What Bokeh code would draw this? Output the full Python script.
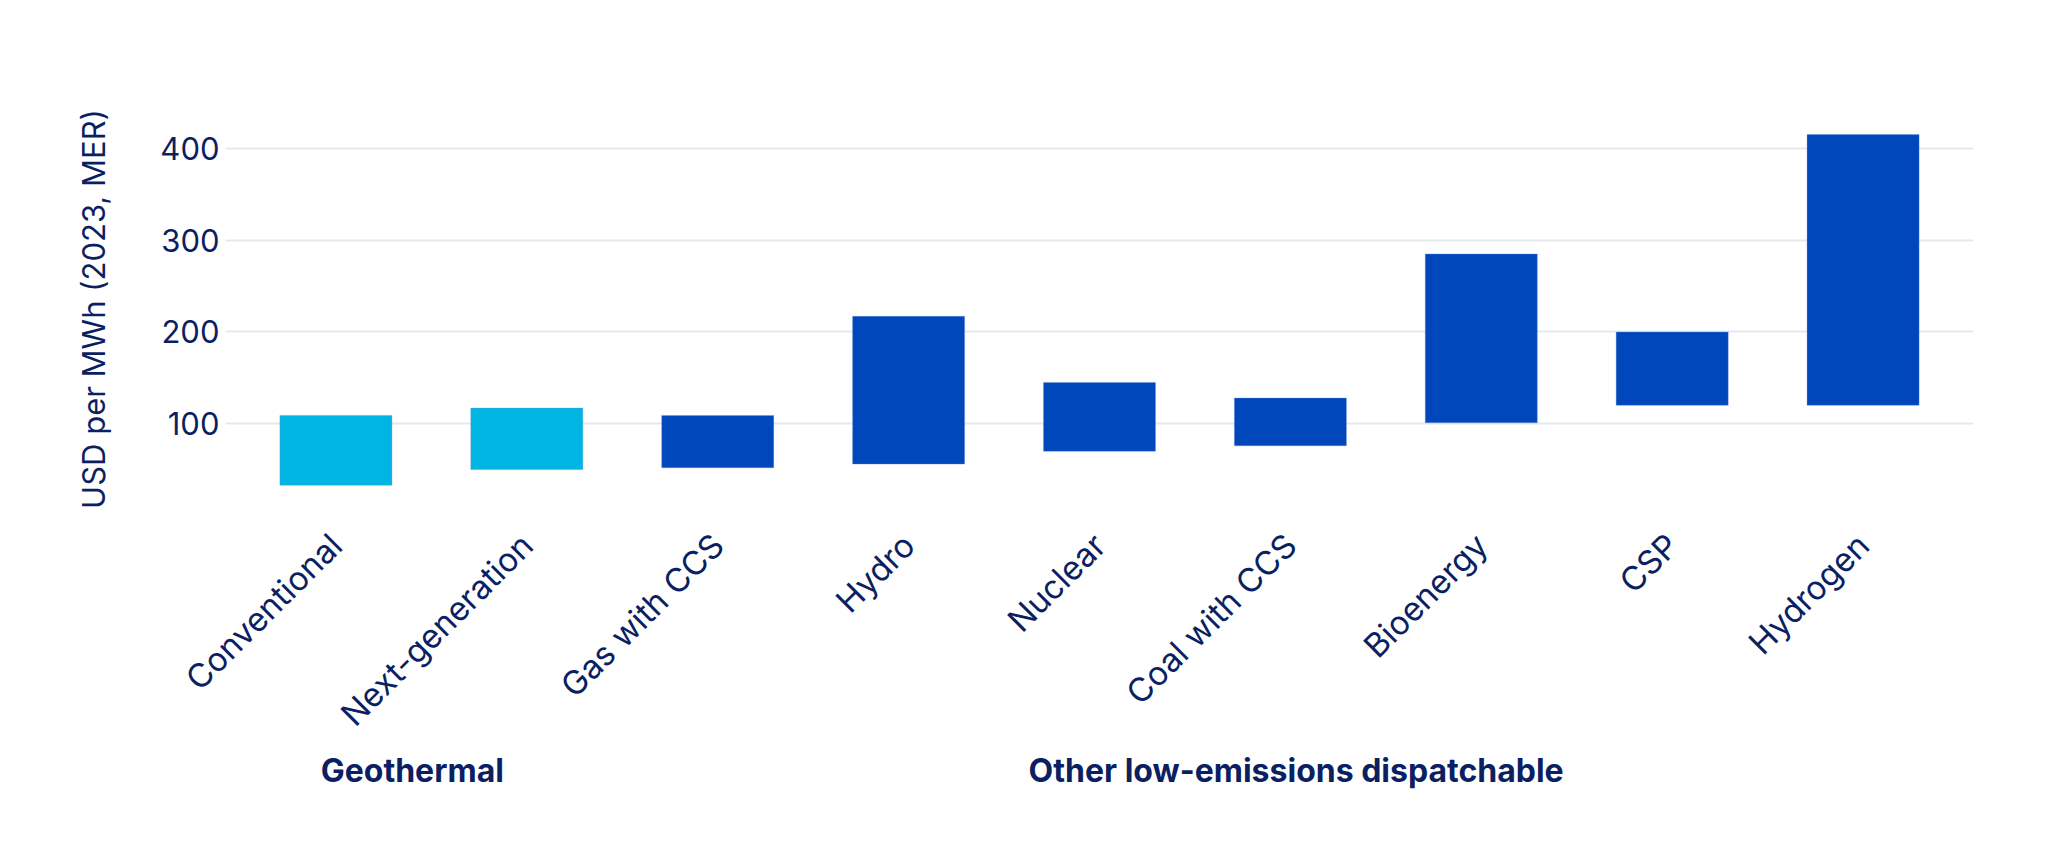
import math
from bokeh.plotting import figure
from bokeh.models import Range1d, FixedTicker, LinearAxis, ColumnDataSource
from bokeh.embed import file_html
from bokeh.resources import INLINE

# ---- data ----
categories = ["Conventional", "Next-generation", "Gas with CCS", "Hydro", "Nuclear",
              "Coal with CCS", "Bioenergy", "CSP", "Hydrogen"]
low_values = [33, 50, 52, 56, 70, 76, 101, 120, 120]
high_values = [109, 117, 109, 217, 145, 128, 285, 200, 415]
groups = ["Geothermal", "Geothermal", "Other low-emissions dispatchable",
          "Other low-emissions dispatchable", "Other low-emissions dispatchable",
          "Other low-emissions dispatchable", "Other low-emissions dispatchable",
          "Other low-emissions dispatchable", "Other low-emissions dispatchable"]
group_names = ["Geothermal", "Other low-emissions dispatchable"]
y_ticks = [100, 200, 300, 400]
y_title = "USD per MWh (2023, MER)"

# ---- style ----
NAVY = "#0b1f63"
GROUP_COLORS = {"Geothermal": "#00b5e2", "Other low-emissions dispatchable": "#0047bb"}
GRID = "#e6e8ee"
FONT = "Inter"
PAD = 0.157  # total x padding, in category units

# category slots: slot i is centred at i + 0.5
xpos = [i + 0.5 for i in range(len(categories))]
colors = [GROUP_COLORS[g] for g in groups]
src = ColumnDataSource(dict(x=xpos, cat=categories, low=low_values, high=high_values, color=colors))

p = figure(width=2032, height=837,
           x_range=Range1d(-PAD / 2, len(categories) + PAD / 2),
           y_range=Range1d(0, 450), output_backend="svg", toolbar_location=None,
           x_axis_location=None,
           min_border_left=225, min_border_right=59, min_border_top=102, min_border_bottom=322)
p.outline_line_color = None
p.background_fill_color = "white"

p.vbar(x="x", bottom="low", top="high", width=0.587, color="color",
       line_color="#6f8fd6", line_alpha=0.35, line_width=1, source=src)

# y axis
p.yaxis.ticker = FixedTicker(ticks=[0] + y_ticks)
p.yaxis.major_label_overrides = {0: ""}
p.yaxis.axis_line_color = None
p.yaxis.major_tick_line_color = None
p.yaxis.major_tick_out = 0
p.yaxis.major_tick_in = 0
p.yaxis.minor_tick_line_color = None
p.yaxis.major_label_text_font = FONT
p.yaxis.major_label_text_font_size = "31px"
p.yaxis.major_label_text_color = NAVY
p.yaxis.major_label_standoff = 6
p.yaxis.axis_label = y_title
p.yaxis.axis_label_text_font = FONT
p.yaxis.axis_label_text_font_style = "normal"
p.yaxis.axis_label_text_font_size = "31px"
p.yaxis.axis_label_text_color = NAVY
p.yaxis.axis_label_standoff = 45

# category axis
caxis = LinearAxis(ticker=FixedTicker(ticks=xpos),
                   major_label_overrides={x: c for x, c in zip(xpos, categories)})
caxis.axis_line_color = None
caxis.major_tick_line_color = None
caxis.major_tick_out = 0
caxis.major_tick_in = 0
caxis.minor_tick_line_color = None
caxis.major_label_orientation = math.pi / 4
caxis.major_label_text_font = FONT
caxis.major_label_text_font_size = "33px"
caxis.major_label_text_color = NAVY
caxis.major_label_standoff = 24
p.add_layout(caxis, "below")

# group axis (second row below)
group_label_x = {"Geothermal": 0.9, "Other low-emissions dispatchable": 5.53}
gaxis = LinearAxis(ticker=FixedTicker(ticks=[group_label_x[g] for g in group_names]),
                   major_label_overrides={group_label_x[g]: g for g in group_names})
gaxis.axis_line_color = None
gaxis.major_tick_line_color = None
gaxis.major_tick_out = 0
gaxis.major_tick_in = 0
gaxis.minor_tick_line_color = None
gaxis.major_label_text_font = FONT
gaxis.major_label_text_font_style = "bold"
gaxis.major_label_text_font_size = "32px"
gaxis.major_label_text_color = NAVY
gaxis.major_label_standoff = 0
p.add_layout(gaxis, "below")

p.xgrid.grid_line_color = None
p.ygrid.ticker = FixedTicker(ticks=[0] + y_ticks)
p.ygrid.grid_line_color = GRID
p.ygrid.grid_line_width = 2

open("out.html", "w").write(file_html(p, INLINE))
